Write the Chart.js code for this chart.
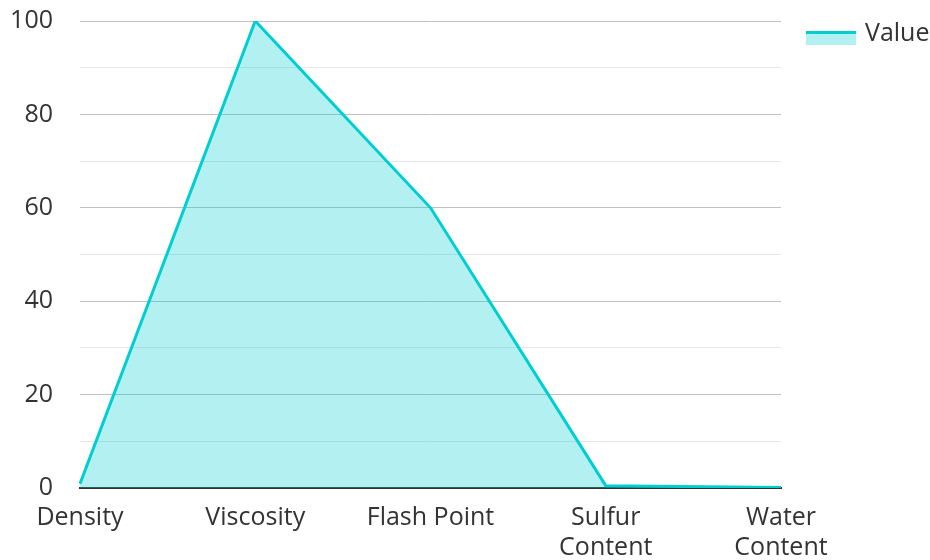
<!DOCTYPE html>
<html>
<head>
<meta charset="utf-8">
<script src="https://cdn.jsdelivr.net/npm/chart.js@4/dist/chart.umd.min.js"></script>
<style>
  html, body { margin: 0; padding: 0; background: #fff; }
  #wrap { width: 930px; height: 560px; position: relative; }
</style>
</head>
<body>
<div id="wrap"><canvas id="myChart"></canvas></div>
<script>
const categories = ['Density', 'Viscosity', 'Flash Point', ['Sulfur', 'Content'], ['Water', 'Content']];
const values = [0.9, 100, 60, 0.5, 0.1];
const seriesName = 'Value';

const lineColor = '#00CED1';
const fillColor = 'rgba(0, 206, 209, 0.3)';
const textColor = '#333333';
const fontFamily = '"Open Sans", "Noto Sans", sans-serif';
const fontSize = 25;

// legend drawn by hand: box with a line on top only
const customLegend = {
    id: 'customLegend',
    afterDraw(chart) {
        const c = chart.ctx;
        c.save();
        c.fillStyle = fillColor;
        c.fillRect(806, 31, 50, 14);
        c.fillStyle = lineColor;
        c.fillRect(806, 31, 50, 3);
        c.fillStyle = textColor;
        c.font = fontSize + 'px ' + fontFamily;
        c.textBaseline = 'middle';
        c.textAlign = 'left';
        c.fillText(seriesName, 865, 34);
        c.restore();
    }
};

const ctx = document.getElementById('myChart');

new Chart(ctx, {
    type: 'line',
    data: {
        labels: categories,
        datasets: [{
            label: seriesName,
            data: values,
            borderColor: lineColor,
            backgroundColor: fillColor,
            borderWidth: 3,
            fill: 'origin',
            tension: 0,
            pointRadius: 0,
            pointHoverRadius: 0
        }]
    },
    options: {
        responsive: true,
        maintainAspectRatio: false,
        animation: false,
        layout: {
            padding: { top: 21, right: 149, bottom: 0, left: 0 }
        },
        plugins: {
            legend: { display: false },
            tooltip: { enabled: false }
        },
        scales: {
            x: {
                offset: false,
                grid: { display: false, drawTicks: false },
                border: { display: true, color: '#333333', width: 2 },
                ticks: {
                    color: textColor,
                    font: { family: fontFamily, size: fontSize },
                    padding: 15,
                    maxRotation: 0,
                    autoSkip: false
                },
                afterFit: function (scale) {
                    scale.height = 72;
                    scale.paddingLeft = 0;
                    scale.paddingRight = 0;
                }
            },
            y: {
                min: 0,
                max: 100,
                border: { display: false },
                grid: {
                    drawTicks: false,
                    lineWidth: 1,
                    color: function (c) {
                        const v = c.tick.value;
                        if (v === 0) return 'rgba(0,0,0,0)';
                        return v % 20 === 0 ? '#c0c0c0' : '#e6e6e6';
                    }
                },
                ticks: {
                    stepSize: 10,
                    color: textColor,
                    font: { family: fontFamily, size: fontSize },
                    padding: 27,
                    callback: function (v) { return v % 20 === 0 ? v : ''; }
                },
                afterFit: function (scale) {
                    scale.width = 80;
                    scale.paddingTop = 0;
                    scale.paddingBottom = 0;
                }
            }
        }
    },
    plugins: [customLegend]
});
</script>
</body>
</html>
